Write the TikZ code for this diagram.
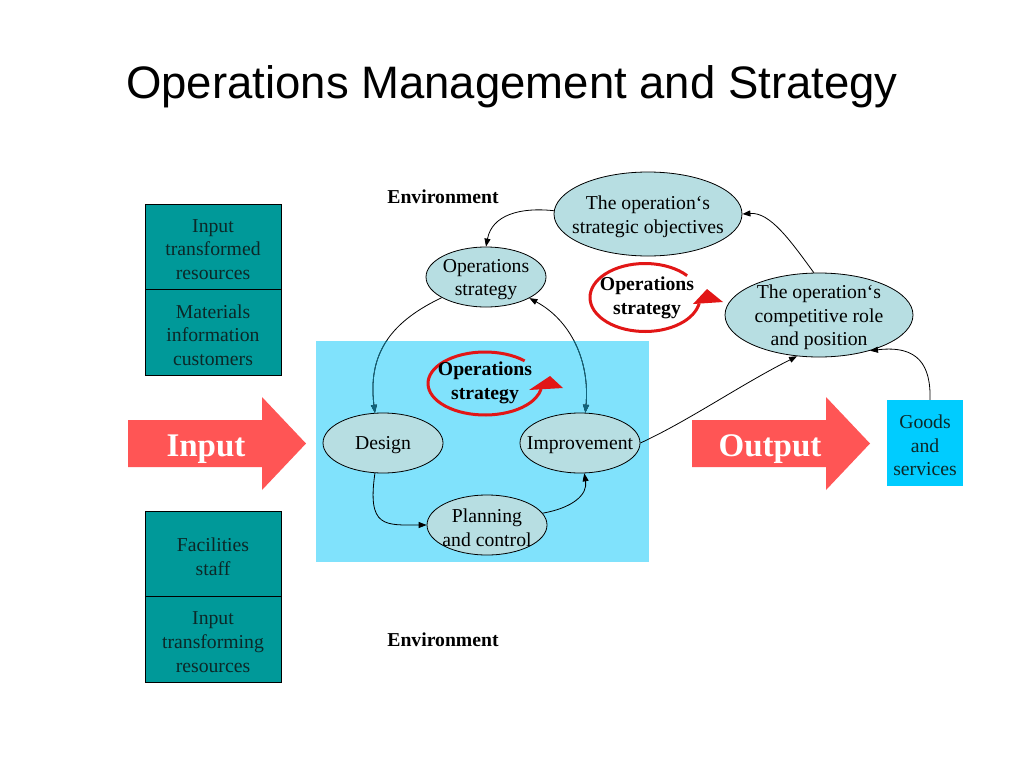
\documentclass[tikz,border=0pt]{standalone}
\usepackage{fontspec}
\setmainfont{Liberation Serif}
\newfontfamily\titlefont{Liberation Sans}
\usetikzlibrary{arrows.meta,shapes.geometric}
\definecolor{tealbox}{RGB}{0,153,153}
\definecolor{bluearea}{RGB}{128,226,252}
\definecolor{ellfill}{RGB}{183,222,226}
\definecolor{goodsfill}{RGB}{0,204,255}
\definecolor{arrowred}{RGB}{255,85,85}
\definecolor{swirlred}{RGB}{226,22,22}
\definecolor{darkteal}{RGB}{16,100,124}
\definecolor{boxtext}{RGB}{12,40,40}
\newcommand\bodysize{\fontsize{19.7}{23.7}\selectfont}
\begin{document}
\begin{tikzpicture}[x=1pt,y=-1pt,
  body/.style={font=\bodysize, align=center},
  txt/.style={label={[body, yshift=-2.5pt]center:#1}},
  dtxt/.style={label={[body, text=boxtext, yshift=-2.5pt]center:#1}},
  ell/.style={ellipse, draw=black, line width=0.8pt, fill=ellfill, inner sep=0pt},
  tbox/.style={rectangle, draw=black, line width=0.8pt, fill=tealbox,
    minimum width=136pt, minimum height=85.5pt, inner sep=0pt},
  tip/.tip={Triangle[length=8pt,width=6pt]},
  conn/.style={line width=0.8pt, -tip},
  swirl/.style={draw=swirlred, line width=3pt},
  bigarrow/.style={fill=arrowred},
  bold/.style={body, font=\bodysize\bfseries},
  arrowtext/.style={text=white, font=\fontsize{33}{40}\selectfont\bfseries},
]
\fill[white] (0,0) rectangle (1024,768);
\useasboundingbox (0,0) rectangle (1024,768);

% title
\node (title) at (512,87) {\titlefont\fontsize{45.5}{54}\selectfont Operations Management and Strategy};

% left boxes
\node[tbox, dtxt={Input\\transformed\\resources}] (b1) at (213,247) {};
\node[tbox, dtxt={Materials\\information\\customers}] (b2) at (213,332.5) {};
\node[tbox, dtxt={Facilities\\staff}] (b3) at (213,554) {};
\node[tbox, dtxt={Input\\transforming\\resources}] (b4) at (213,639.5) {};

% blue area
\node[fill=bluearea, minimum width=333pt, minimum height=221pt, inner sep=0pt] (area) at (482.5,451.5) {};

% big arrows
\fill[bigarrow] (128,420) -- (262,420) -- (262,397) -- (306,443.5) -- (262,490) -- (262,467) -- (128,467) -- cycle;
\node[arrowtext] (input) at (206,449) {Input};
\fill[bigarrow] (692,420) -- (826,420) -- (826,397) -- (870,443.5) -- (826,490) -- (826,467) -- (692,467) -- cycle;
\node[arrowtext] (output) at (770,449) {Output};

% goods box
\node[rectangle, fill=goodsfill, minimum width=76pt, minimum height=86pt, inner sep=0pt,
  dtxt={Goods\\and\\services}] (goods) at (925,443) {};

% ellipses
\node[ell, minimum width=120pt, minimum height=60pt, txt={Operations\\strategy}] (ops) at (486,277) {};
\node[ell, minimum width=120pt, minimum height=60pt, txt={Design}] (design) at (383,443) {};
\node[ell, minimum width=120pt, minimum height=60pt, txt={Improvement}] (imp) at (580,443) {};
\node[ell, minimum width=120pt, minimum height=60pt, txt={Planning\\and control}] (plan) at (487,525) {};
\node[ell, minimum width=188pt, minimum height=84pt, txt={The operation‘s\\strategic objectives}] (obj) at (648,214) {};
\node[ell, minimum width=188pt, minimum height=84pt, txt={The operation‘s\\competitive role\\and position}] (comp) at (819,315) {};

% environment labels
\node[bold] (env1) at (443,197) {Environment};
\node[bold] (env2) at (443,640) {Environment};

% swirls
\draw[swirl] (485,383.5) ++(-46:57 and 31.5) arc[start angle=-46, end angle=-350, x radius=57, y radius=31.5];
\fill[swirlred] (529,390) -- (550,376) -- (563,388) -- cycle;
\node[bold] (sw1) at (485,383) {Operations\\strategy};
\draw[swirl] (645,297.5) ++(-40:55 and 34) arc[start angle=-40, end angle=-350, x radius=55, y radius=34];
\fill[swirlred] (693,304) -- (707,289) -- (723,302) -- cycle;
\node[bold] (sw2) at (647,298) {Operations\\strategy};

% connectors
\draw[conn] (obj.178) .. controls (520,207) and (492,215) .. (ops.north);
% lines passing under the tinted area: black outside, teal inside
\draw[conn] (ops.205) .. controls (395,320) and (367,350) .. (design.105);
\draw[line width=0.8pt, tip-tip] (ops.334) .. controls (570,320) and (590,360) .. (imp.80);
\begin{scope}
  \clip (area.north west) rectangle (area.south east);
  \draw[conn, draw=darkteal] (ops.205) .. controls (395,320) and (367,350) .. (design.105);
  \draw[line width=0.8pt, draw=darkteal, tip-tip] (ops.334) .. controls (570,320) and (590,360) .. (imp.80);
\end{scope}
\draw[conn] (design.255) .. controls (367,528) and (385,525) .. (plan.west);
\draw[conn] (plan.12) .. controls (572,508) and (588,495) .. (imp.278);
\draw[conn] (imp.east) .. controls (690,420) and (740,385) .. (comp.242);
\draw[conn] (comp.97) .. controls (790,240) and (770,212) .. (obj.east);
\draw[conn] ([xshift=5pt]goods.north) .. controls (931,365) and (918,345) .. (comp.-35);
\end{tikzpicture}
\end{document}
